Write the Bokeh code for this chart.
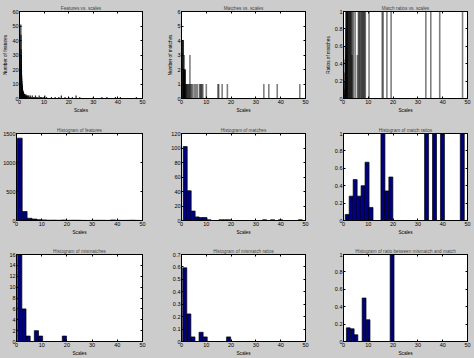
from bokeh.plotting import figure
from bokeh.layouts import column, row
from bokeh.models import LinearAxis, FixedTicker, Range1d
from bokeh.embed import file_html
from bokeh.resources import INLINE

BG = "#cccccc"
FONT = "Liberation Sans"
NAVY = "#00007f"

x_ticks = [0, 10, 20, 30, 40, 50]

# Features vs. scales
feat_scale = [0.55, 0.6, 0.65, 0.7, 0.75, 0.8, 0.85, 0.9, 0.95, 1.0,
              1.05, 1.1, 1.2, 1.3, 1.4, 1.5, 1.6, 1.7, 1.8, 1.9,
              2.0, 2.2, 2.4, 2.6, 2.8, 3.0, 3.2, 3.5, 3.8, 4.1,
              4.4, 4.8, 5.2, 5.6, 6.0, 6.5, 7.0, 7.5, 8.0, 8.5,
              9.0, 9.6, 10.3, 11.0, 13.0, 14.5, 16.0, 17.0, 18.5, 20.0,
              21.5, 23.0, 24.5, 30.0, 33.5, 35.5, 39.0, 41.0, 47.5]
feat_count = [51, 44, 34, 30, 24, 20, 16, 14, 12, 10,
              9, 8, 7, 6, 5, 5, 4, 4, 3, 3,
              3, 3, 2, 3, 2, 2, 2, 2, 2, 1,
              2, 1, 2, 1, 1, 2, 1, 1, 2, 1,
              1, 1, 2, 1, 1, 1, 1, 2, 1, 1,
              1, 2, 1, 1, 1, 1, 1, 1, 1]

# Matches vs. scales
match_scale = [0.4, 0.5, 0.6, 0.7, 0.8, 0.9, 1.0, 1.1, 1.2, 1.3,
               1.4, 1.5, 1.7, 1.9, 2.1, 2.3, 2.6, 2.9, 3.1, 3.4,
               3.7, 4.0, 4.5, 5.2, 5.8, 6.4, 7.3, 7.6, 7.9, 8.2,
               8.6, 10.0, 14.7, 15.0, 16.4, 18.5, 33.2, 35.2, 38.6, 47.7]
match_count = [4, 4, 4, 4, 2, 2, 2, 3, 2, 2,
               2, 2, 1, 1, 1, 1, 1, 1, 1, 3,
               1, 1, 1, 1, 1, 1, 1, 1, 1, 1,
               1, 1, 1, 1, 1, 1, 1, 1, 1, 1]

# Match ratios vs. scales
ratio_scale = [0.3, 0.4, 0.5, 0.6, 0.7, 0.8, 0.9, 1.0, 1.1, 1.2,
               1.3, 1.4, 1.5, 1.6, 1.8, 2.0, 2.2, 2.4, 2.6, 2.8,
               3.0, 3.2, 3.4, 3.6, 4.0, 4.7, 5.6, 6.0, 6.3, 6.6,
               7.0, 7.3, 7.6, 7.9, 8.2, 8.5, 8.8, 10.3, 15.6, 16.0,
               17.5, 19.2, 33.2, 35.2, 38.8, 48.0]
ratio_val = [0.05, 0.1, 0.2, 0.3, 0.45, 0.6, 0.8, 1, 1, 0.5,
             1, 1, 1, 1, 1, 1, 1, 1, 1, 1,
             1, 1, 0.5, 1, 1, 1, 0.5, 1, 1, 1,
             1, 1, 1, 1, 1, 1, 1, 1, 1, 1,
             1, 1, 1, 1, 1, 1]

# Histogram of features
feat_hist_x = [1.28, 3.23, 5.18, 7.13, 9.08, 11.03, 12.98, 14.93, 16.88, 18.83,
               20.78, 22.73, 24.68, 26.63, 28.58, 30.53, 32.48, 34.43, 36.38, 38.33,
               40.28, 42.23, 44.18, 46.13, 48.08]
feat_hist = [1420, 155, 38, 25, 15, 10, 5, 6, 4, 8,
             3, 5, 4, 2, 1, 3, 4, 3, 2, 9,
             3, 2, 3, 5, 2]
feat_bin = 1.95

# Histogram of matches / match ratios
match_hist_x = [1.5, 3.1, 4.7, 6.3, 7.9, 9.5, 11.1, 15.9, 17.5, 19.1, 33.5, 36.7, 39.9, 47.9]
match_hist = [102, 41, 13, 5, 4, 4, 1, 1, 1, 1, 1, 1, 1, 1]
ratio_hist = [0.07, 0.28, 0.47, 0.28, 0.40, 0.67, 0.15, 1.0, 0.34, 0.5, 1, 1, 1, 1]
match_bin = 1.6

# Histogram of mismatches / mismatch ratios
mis_hist_x = [1.3, 2.95, 4.6, 7.9, 9.55, 19.0]
mis_hist = [16, 6, 1, 2, 1, 1]
mis_ratio_hist = [0.593, 0.222, 0.037, 0.074, 0.037, 0.037]
mis_bin = 1.65

# Ratio between mismatch and match
mm_hist_x = [1.95, 3.5, 5.0, 8.3, 9.9, 19.6]
mm_hist = [0.157, 0.146, 0.077, 0.5, 0.25, 1.0]
mm_bin = 1.55

COL_W = [158, 158, 158]
COL_LR = [(16, 16), (23, 11), (27, 7)]
ROW_H = [119, 120, 119]
ROW_TB = [(11, 21), (14, 19), (15, 15)]


def style_axis(ax, labels=True):
    ax.axis_line_color = "black"
    ax.major_tick_line_color = "black"
    ax.major_tick_in = 2
    ax.major_tick_out = 0
    ax.minor_tick_line_color = None
    if labels:
        ax.major_label_text_font = FONT
        ax.major_label_text_font_size = "5.5px"
        ax.major_label_text_color = "black"
        ax.major_label_standoff = 1
        ax.axis_label_text_font = FONT
        ax.axis_label_text_font_size = "4.7px"
        ax.axis_label_text_font_style = "normal"
        ax.axis_label_text_color = "black"
        ax.axis_label_standoff = 1
    else:
        ax.major_label_text_font_size = "1px"
        ax.major_label_text_color = None
        ax.major_label_standoff = 0


def make(r, c, title, ymax, yticks, ylabel=None, overrides=None):
    left, right = COL_LR[c]
    top, bottom = ROW_TB[r]
    p = figure(width=COL_W[c], height=ROW_H[r],
               x_range=Range1d(0, 50), y_range=Range1d(0, ymax),
               output_backend="svg", toolbar_location=None,
               min_border_left=left, min_border_right=right,
               min_border_top=top, min_border_bottom=bottom,
               background_fill_color="white", border_fill_color=BG,
               outline_line_color="black", outline_line_width=1)
    p.title.text = title
    p.title.text_font = FONT
    p.title.text_font_size = "4.7px"
    p.title.text_font_style = "normal"
    p.title.align = "center"
    p.title.standoff = 1
    p.title.offset = 0
    p.grid.visible = False
    p.xaxis.ticker = FixedTicker(ticks=x_ticks)
    p.yaxis.ticker = FixedTicker(ticks=yticks)
    p.xaxis.axis_label = "Scales"
    if ylabel:
        p.yaxis.axis_label = ylabel
    style_axis(p.xaxis[0])
    style_axis(p.yaxis[0])
    if overrides:
        p.yaxis.major_label_overrides = overrides
    ra = LinearAxis(ticker=FixedTicker(ticks=yticks))
    ta = LinearAxis(ticker=FixedTicker(ticks=x_ticks))
    style_axis(ra, labels=False)
    style_axis(ta, labels=False)
    p.add_layout(ra, "right")
    p.add_layout(ta, "above")
    return p


one_ticks = [0, 0.2, 0.4, 0.6, 0.8, 1]
one_over = {0: "0", 1: "1"}

p1 = make(0, 0, "Features vs. scales", 60, [0, 10, 20, 30, 40, 50, 60], "Number of features")
p1.segment(x0=feat_scale, y0=[0] * len(feat_scale), x1=feat_scale, y1=feat_count,
           line_color="black", line_width=1.2, line_alpha=0.85)

p2 = make(0, 1, "Matches vs. scales", 6, [0, 1, 2, 3, 4, 5, 6], "Number of matches")
p2.segment(x0=match_scale, y0=[0] * len(match_scale), x1=match_scale, y1=match_count,
           line_color="black", line_width=1.6, line_alpha=0.5)

p3 = make(0, 2, "Match ratios vs. scales", 1, one_ticks, "Ratios of matches", one_over)
p3.segment(x0=ratio_scale, y0=[0] * len(ratio_scale), x1=ratio_scale, y1=ratio_val,
           line_color="black", line_width=1.6, line_alpha=0.5)

p4 = make(1, 0, "Histogram of features", 1500, [0, 500, 1000, 1500])
p4.vbar(x=feat_hist_x, top=feat_hist, width=feat_bin, bottom=0,
        fill_color=NAVY, line_color="black", line_width=0.7)

p5 = make(1, 1, "Histogram of matches", 120, [0, 20, 40, 60, 80, 100, 120])
p5.vbar(x=match_hist_x, top=match_hist, width=match_bin, bottom=0,
        fill_color=NAVY, line_color="black", line_width=0.7)

p6 = make(1, 2, "Histogram of match ratios", 1, one_ticks, None, one_over)
p6.vbar(x=match_hist_x, top=ratio_hist, width=match_bin, bottom=0,
        fill_color=NAVY, line_color="black", line_width=0.7)

p7 = make(2, 0, "Histogram of mismatches", 16, [0, 2, 4, 6, 8, 10, 12, 14, 16])
p7.vbar(x=mis_hist_x, top=mis_hist, width=mis_bin, bottom=0,
        fill_color=NAVY, line_color="black", line_width=0.7)

p8 = make(2, 1, "Histogram of mismatch ratios", 0.7, [0, 0.1, 0.2, 0.3, 0.4, 0.5, 0.6, 0.7], None, {0: "0"})
p8.vbar(x=mis_hist_x, top=mis_ratio_hist, width=mis_bin, bottom=0,
        fill_color=NAVY, line_color="black", line_width=0.7)

p9 = make(2, 2, "Histogram of ratio between mismatch and match", 1, one_ticks, None, one_over)
p9.vbar(x=mm_hist_x, top=mm_hist, width=mm_bin, bottom=0,
        fill_color=NAVY, line_color="black", line_width=0.7)

layout = column(row(p1, p2, p3), row(p4, p5, p6), row(p7, p8, p9))
layout.styles = {"background-color": BG}

open("out.html", "w").write(file_html(layout, INLINE))
